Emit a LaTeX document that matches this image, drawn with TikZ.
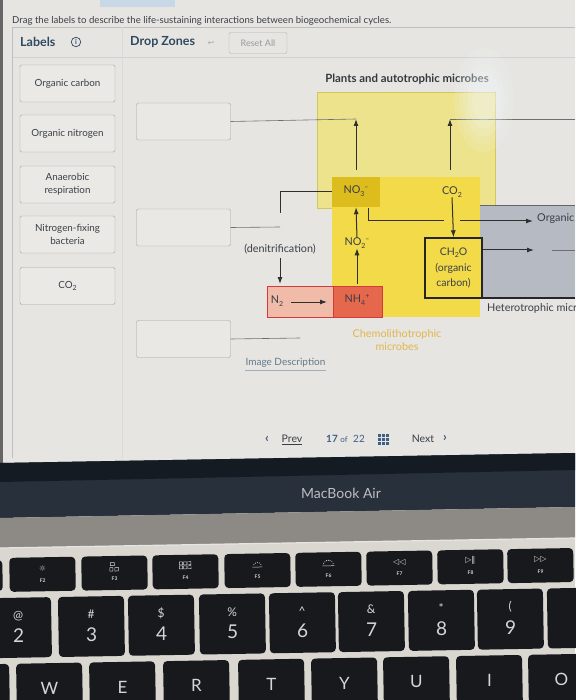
\documentclass[tikz,border=0pt]{standalone}
\usepackage{fontspec}
\setmainfont{Lato}
\newfontfamily\symfont{DejaVu Sans}
\usetikzlibrary{arrows.meta,calc}
\definecolor{screen}{HTML}{E6E5E1}
\definecolor{txt}{HTML}{3A3F47}
\definecolor{hdr}{HTML}{2E4A62}
\definecolor{boxline}{HTML}{A3A3A0}
\definecolor{labelfill}{HTML}{EAE9E5}
\definecolor{dropfill}{HTML}{E9E8E4}
\definecolor{linegray}{HTML}{6E6E6E}
\definecolor{arrowc}{HTML}{2F2F2F}
\definecolor{paleY}{HTML}{EDE38C}
\definecolor{paleYline}{HTML}{D5C658}
\definecolor{brightY}{HTML}{F2DA48}
\definecolor{goldY}{HTML}{DDBC1E}
\definecolor{pinkN}{HTML}{F0BBA8}
\definecolor{redN}{HTML}{E5674C}
\definecolor{redLine}{HTML}{D6393B}
\definecolor{hetero}{HTML}{B6BBC3}
\definecolor{chemo}{HTML}{E2B64C}
\definecolor{linkblue}{HTML}{62798D}
\definecolor{navblue}{HTML}{3E5F86}
\definecolor{bezel}{HTML}{27303B}
\definecolor{bezeltop}{HTML}{151B23}
\definecolor{hinge}{HTML}{8D8984}
\definecolor{deck}{HTML}{DAD7D1}
\definecolor{keyc}{HTML}{18191D}
\definecolor{keytxt}{HTML}{D6D6D6}
\definecolor{topimg}{HTML}{C9D8E6}
\definecolor{glare}{HTML}{F4F8FC}
\newcommand\fs[2]{\fontsize{#1}{#2}\selectfont}
\newcommand\mysub[1]{\raisebox{-0.45ex}{\fs{7}{8}#1}}
\newcommand\mysup[1]{\raisebox{0.8ex}{\fs{7}{8}#1}}
\begin{document}
\begin{tikzpicture}[x=1pt,y=-1pt,
  labelbox/.style={draw=boxline, fill=labelfill, rounded corners=1.5pt,
    minimum width=95pt, minimum height=37pt, inner sep=1pt, align=center,
    text=txt, font=\fs{9.8}{13}},
  dropbox/.style={draw=boxline, fill=dropfill, rounded corners=2pt,
    minimum width=94pt, minimum height=37pt},
  conn/.style={draw=linegray, line width=0.6pt},
  bconn/.style={draw=arrowc, line width=1pt},
  arr/.style={-{Latex[length=7pt,width=5pt]}, line width=1pt, draw=arrowc},
  dtext/.style={text=txt, font=\fs{10.8}{13}, inner sep=0pt, align=center},
  keyshape/.style={fill=keyc, rounded corners=4pt},
  ftext/.style={text=keytxt, font=\fs{5}{6}\bfseries, inner sep=0pt},
  ficon/.style={text=keytxt, font=\symfont\fs{8}{9}, inner sep=0pt},
  digit/.style={text=keytxt, font=\fs{19}{20}, inner sep=0pt},
  symb/.style={text=keytxt, font=\fs{12}{13}, inner sep=0pt},
]
\useasboundingbox (0,0) rectangle (575,700);

% ---------------- screen ----------------
\fill[screen] (0,0) -- (575,0) -- (575,453) -- (0,463) -- cycle;
\fill[black!60] (0,0) rectangle (3,463);
\fill[topimg] (100,0) rectangle (175,7);

\node[anchor=west, text=txt, font=\fs{9.6}{11}, inner sep=0pt] (instr) at (12,21)
  {Drag the labels to describe the life-sustaining interactions between biogeochemical cycles.};
\draw[black!25] (12,27) -- (575,27);
\draw[black!18] (12,57) -- (575,57);
\draw[black!25] (12,27) -- (12,458);
\draw[black!15] (122,27) -- (122,458);
\node[anchor=west, text=hdr, font=\fs{12.5}{14}\bfseries, inner sep=0pt] (labels) at (20,42) {Labels};
\node[circle, draw=hdr, line width=0.7pt, inner sep=0pt, minimum size=9.5pt,
  text=hdr, font=\fs{7}{8}\bfseries] (info) at (76,42) {i};
\node[anchor=west, text=hdr, font=\fs{12.5}{14}\bfseries, inner sep=0pt] (dz) at (130,42) {Drop Zones};
\node[text=black!35, font=\symfont\fs{7.5}{8}, inner sep=0pt] (undo) at (211,43) {↩};
\node[draw=black!30, rounded corners=2pt, minimum width=58pt, minimum height=21pt,
  text=black!40, font=\fs{9}{10}, inner sep=0pt] (reset) at (258,43) {Reset All};

% label boxes
\node[labelbox] (l1) at (67.5,83.5) {Organic carbon};
\node[labelbox] (l2) at (67.5,133.5) {Organic nitrogen};
\node[labelbox] (l3) at (67.5,184.5) {Anaerobic\\respiration};
\node[labelbox] (l4) at (67.5,234.5) {Nitrogen-fixing\\bacteria};
\node[labelbox] (l5) at (67.5,286) {CO\mysub{2}};

% drop zones
\node[dropbox] (d1) at (183.5,121.5) {};
\node[dropbox] (d2) at (183.5,227.5) {};
\node[dropbox] (d3) at (183.5,339) {};

% ---------- diagram ----------
\fill[paleY] (317,92) rectangle (495,208);
\draw[paleYline, line width=0.8pt] (317,92) rectangle (495,208);
\fill[brightY] (332,177) rectangle (480,317);
\fill[hetero] (480,206) rectangle (575,298);
\draw[black!60, line width=1pt] (480,206) -- (575,206);
\node[fill=goldY, minimum width=48pt, minimum height=30pt, inner sep=0pt] (no3box) at (356,192) {};
\node[dtext] (no3) at (356,191) {NO\mysub{3}\mysup{–}};
\node[dtext] (co2) at (452,192) {CO\mysub{2}};
\node[dtext] (no2) at (357,243) {NO\mysub{2}\mysup{–}};
\node[draw=black!85, line width=1.4pt, fill=brightY, minimum width=57pt, minimum height=60pt,
  inner sep=0pt] (ch2obox) at (453.5,268) {};
\draw[black!85, line width=1.4pt] (425,298) -- (575,298);
\node[dtext, font=\fs{10.5}{15.5}] (ch2o) at (453.5,268) {CH\mysub{2}O\\(organic\\carbon)};

\node[fill=pinkN, minimum width=66pt, minimum height=31pt, inner sep=0pt] (n2box) at (300,301.5) {};
\node[fill=redN, minimum width=49pt, minimum height=31pt, inner sep=0pt] (nh4box) at (357.5,301.5) {};
\draw[redLine, line width=1pt] (267,286) rectangle (382,317);
\draw[redLine, line width=0.8pt] (333,286) -- (333,317);
\node[dtext] (n2) at (277,301) {N\mysub{2}};
\node[dtext] (nh4) at (357,300) {NH\mysub{4}\mysup{+}};

\node[dtext, font=\fs{11.4}{13}\bfseries, text=txt!90!black] (plants) at (407,79) {Plants and autotrophic microbes};
\node[dtext] (denit) at (280,249) {(denitrification)};
\node[dtext, anchor=west] (organic) at (537,219) {Organic};
\node[dtext, anchor=west] (hetlab) at (487,308) {Heterotrophic microbes};
\node[dtext, text=chemo, font=\fs{10.8}{13}] (chemolab) at (397,340) {Chemolithotrophic\\microbes};
\node[text=linkblue, font=\fs{10}{11}, inner sep=0pt] (imgdesc) at (285.5,363) {Image Description};
\draw[linkblue!60, line width=0.4pt] (245,370) -- (326,370);

% coordinates for connectors
\coordinate (t1) at (356,119);
\coordinate (t2) at (450,119);
\coordinate (b1) at (356,170);
\coordinate (b2) at (450,170);
\draw[arr] (b1) -- (t1);
\draw[arr] (b2) -- (t2);
\draw[conn] (d1.east) -- (t1);
\draw[conn] (t2) -- (575,119);
\coordinate (dn) at (280,213);
\draw[bconn] (no3box.west) -- (280,192) -- (dn);
\coordinate (d2end) at (280,227);
\draw[conn] (d2.east) -- (d2end);
\coordinate (d3end) at (300,338);
\draw[conn] (d3.east) -- (d3end);
\draw[arr] (280,258) -- (280,284);
\draw[arr] (291,302) -- (327,302);
\draw[arr] (nh4.north |- 0,284) -- (no2.south);
\draw[arr] (no2.north) -- (no3box.south);
\draw[bconn] (368,208) -- (368,221) -- (444,221);
\draw[arr] (co2.south) -- (ch2obox.north);
\draw[arr] (460,221) -- (533,221);
\draw[arr] (ch2obox.east |- 0,250) -- (534,250);
\draw[conn] (552,250) -- (575,250);

% nav bar
\foreach \xx in {252,317,400,467} \draw[black!10] (\xx,428) -- (\xx,452);
\node[text=navblue, font=\fs{13}{14}\bfseries, inner sep=0pt] (prevarrow) at (267,439) {‹};
\node[text=txt, font=\fs{10.5}{12}, inner sep=0pt] (prev) at (292,440) {\underline{Prev}};
\node[text=navblue, font=\fs{10}{11}\bfseries, inner sep=0pt] (n17) at (332,439) {17};
\node[text=navblue, font=\fs{8}{9}, inner sep=0pt] (of) at (344,440) {of};
\node[text=navblue, font=\fs{10}{11}, inner sep=0pt] (n22) at (359,439) {22};
\foreach \i in {0,1,2} \foreach \j in {0,1,2}
  \fill[navblue] (378+\i*3.8,434+\j*3.8) rectangle ++(3,3);
\node[text=txt, font=\fs{10.5}{12}, inner sep=0pt] (next) at (423,439) {Next};
\node[text=navblue, font=\fs{13}{14}\bfseries, inner sep=0pt] (nextarrow) at (445,438) {›};

% soft glare
\foreach \r/\op in {1.0/0.12,0.85/0.12,0.7/0.14,0.55/0.16,0.4/0.18}
  \fill[glare, opacity=\op] (484,100) ellipse ({30*\r} and {52*\r});

% ---------------- bezel ----------------
\fill[bezel] (0,463) -- (575,453) -- (575,507) -- (0,518) -- cycle;
\fill[bezeltop] (0,463) -- (575,453) -- (575,470) -- (0,482) -- cycle;
\node[text=black!25!white, font=\fs{14}{15}, inner sep=0pt] (mba) at (341,493) {MacBook Air};
\fill[hinge] (0,518) -- (575,507) -- (575,538) -- (0,548) -- cycle;
\fill[deck] (0,548) -- (575,538) -- (575,700) -- (0,700) -- cycle;
\draw[white!90!black, line width=1.2pt] (0,548) -- (575,538);

% ---------------- keyboard ----------------
\begin{scope}[rotate around={1:(288,600)}]
  % function row
  \path[keyshape] (-60,555) rectangle (3,586);
  \foreach \cx/\lab in {43/F2,115/F3,186/F4,258/F5,329/F6,400/F7,471/F8,541/F9}{
    \path[keyshape] (\cx-33,553) rectangle (\cx+33,587);
    \node[ftext] (f\lab) at (\cx,576) {\lab};
  }
  \node[ficon] (icF2) at (43,564) {☼};
  \draw[keytxt, line width=0.5pt] (111,559.5) rectangle (115,562.5)
     (110.5,564.5) rectangle (113.5,568) (115.5,564.5) rectangle (119,568);
  \foreach \i in {0,1,2} \foreach \j in {0,1}
     \draw[keytxt, line width=0.45pt] (180+\i*4.2,560+\j*4) rectangle ++(3.2,3);
  \foreach \a in {30,60,90,120,150} \fill[keytxt] ($(258,566)+(-\a:4)$) circle (0.55pt);
  \draw[keytxt, line width=0.5pt] (253,566.5) -- (263,566.5);
  \foreach \a in {20,45,70,90,110,135,160} \fill[keytxt] ($(329,566)+(-\a:5)$) circle (0.55pt);
  \draw[keytxt, line width=0.5pt] (323,566.5) -- (335,566.5);
  \node[ficon] (icF7) at (400,564) {◁◁};
  \node[ficon] (icF8) at (471,564) {▷‖};
  \node[ficon] (icF9) at (541,564) {▷▷};
  % number row
  \foreach \cx/\sy/\dg in {18/@/2, 91/\#/3, 161/\$/4, 232/\%/5, 302/\textasciicircum/6, 371/\&/7, 441/*/8, 510/(/9}{
    \path[keyshape] (\cx-33,593) rectangle (\cx+33,653);
    \node[symb] at (\cx,611) {\sy};
    \node[digit] at (\cx,631) {\dg};
  }
  \path[keyshape] (547,593) rectangle (620,653);
  % bottom row
  \path[keyshape] (-60,659) rectangle (8,730);
  \foreach \cx/\lt in {48/W,121/E,195/R,270/T,343/Y,415/U,488/I,560/O}{
    \path[keyshape] (\cx-33,659) rectangle (\cx+33,730);
    \node[digit, font=\fs{17}{18}] at (\cx,684) {\lt};
  }
\end{scope}
\end{tikzpicture}
\end{document}
